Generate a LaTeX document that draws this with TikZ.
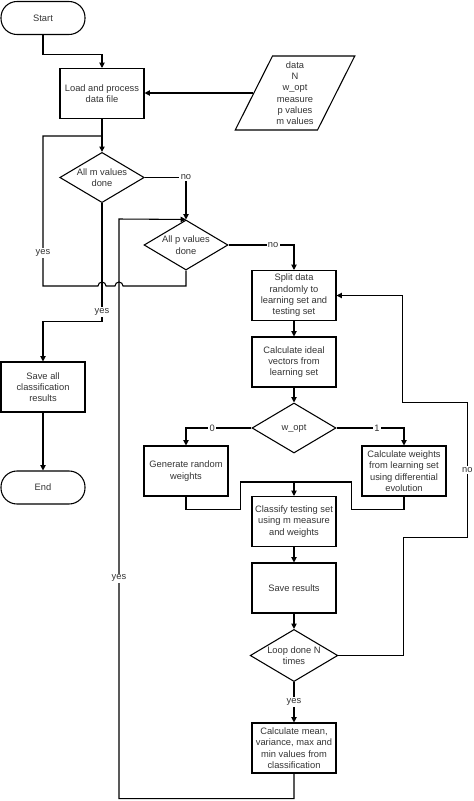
\documentclass[tikz,border=0pt]{standalone}
\usepackage{fontspec}
\setmainfont{Liberation Sans}
\usetikzlibrary{arrows.meta,shapes.geometric}

\begin{document}
\begin{tikzpicture}[
    x=0.75pt, y=-0.75pt,
    >={Triangle[length=4pt,width=4pt]},
    every node/.style={font=\fontsize{7}{8.5}\selectfont, text=black!80},
    term/.style={draw, line width=0.8pt, rounded corners=12pt, minimum width=63pt, minimum height=24.75pt},
    proc/.style={draw, line width=0.8pt, align=center, minimum width=63pt, minimum height=37.5pt, inner sep=1.5pt},
    decide/.style={draw, line width=0.8pt, diamond, aspect=1.68, align=center, minimum width=63pt, minimum height=37.5pt, inner sep=0.5pt},
    io/.style={draw, line width=0.8pt, trapezium, trapezium left angle=63.4, trapezium right angle=116.6, trapezium stretches=true, align=center, minimum width=90pt, minimum height=55.5pt, inner sep=1pt},
    flow/.style={line width=0.8pt},
    lbl/.style={fill=white, inner sep=1pt}
  ]
  \path[use as bounding box] (0,0) rectangle (474,801);
  \node[term] (start) at (43,18) {Start};
  \node[proc] (load) at (102,93.5) {Load and process\\data file};
  \node[io] (data) at (295,93) {data\\N\\w\_opt\\measure\\p values\\m values};
  \node[decide] (mdone) at (102,177.5) {All m values\\done};
  \node[decide] (pdone) at (186,245) {All p values\\done};
  \node[proc] (saveall) at (43,387) {Save all\\classification\\results};
  \node[term] (stop) at (43,487.5) {End};
  \node[proc] (split) at (294,295.5) {Split data\\randomly to\\learning set and\\testing set};
  \node[proc] (ideal) at (294,362) {Calculate ideal\\vectors from\\learning set};
  \node[decide] (wopt) at (294,428) {w\_opt};
  \node[proc] (randw) at (186,471) {Generate random\\weights};
  \node[proc] (dew) at (404,471) {Calculate weights\\from learning set\\using differential\\evolution};
  \node[proc] (classify) at (294,521.5) {Classify testing set\\using m measure\\and weights};
  \node[proc] (saveres) at (294,588) {Save results};
  \node[decide] (loopn) at (294,655.5) {Loop done N\\times};
  \node[proc] (stats) at (294,748) {Calculate mean,\\variance, max and\\min values from\\classification};

  \coordinate (mjoin) at (102,136);
  \coordinate (pback) at (43,286);
  \coordinate (hop1) at (123,286);
  \coordinate (hop2) at (106,286);
  \coordinate (loopx) at (119,219);
  \coordinate (merge) at (294,482);

  \draw[flow,->] (start.south) -- ++(0,19) -| (load.north);
  \draw[flow,->] (data.west) -- (load.east |- data.west);
  \draw[flow,->] (load) -- (mdone);
  \draw[flow,->] (mdone.east) -| node[lbl]{no} (pdone.north);
  \draw[flow] (pdone.south) |- (hop1) arc[start angle=0,end angle=180,radius=3pt] -- (hop2) arc[start angle=0,end angle=180,radius=3pt] -- (pback) -- node[lbl,pos=0.22]{yes} (pback |- mjoin) -- (mjoin);
  \draw[flow,->] (mdone.south) -- node[lbl,pos=0.92]{yes} ++(0,118) -| (saveall.north);
  \draw[flow,->] (saveall) -- (stop);
  \draw[flow,->] (pdone.east) -| node[lbl,pos=0.34]{no} (split.north);
  \draw[flow,->] (split) -- (ideal);
  \draw[flow,->] (ideal) -- (wopt);
  \draw[flow,->] (wopt.west) -| node[lbl,pos=0.3]{0} (randw.north);
  \draw[flow,->] (wopt.east) -| node[lbl,pos=0.3]{1} (dew.north);
  \draw[flow] (randw.south) -- ++(0,13) -| ([xshift=-40pt]merge) -- (merge);
  \draw[flow] (dew.south) -- ++(0,13) -| ([xshift=43pt]merge) -- (merge);
  \draw[flow,->] (merge) -- (classify.north);
  \draw[flow,->] (classify) -- (saveres);
  \draw[flow,->] (saveres) -- (loopn);
  \draw[flow,->] (loopn) -- node[lbl]{yes} (stats);
  \draw[flow,->] (loopn.east) -- ++(65,0) -- ++(0,-118) -- ++(64,0) -- node[lbl]{no} ++(0,-135) -- ++(-65,0) |- (split.east);
  \draw[flow,->] (stats.south) -- ++(0,25) -| node[lbl,pos=0.69]{yes} (loopx) -- (pdone.north);
\end{tikzpicture}
\end{document}
